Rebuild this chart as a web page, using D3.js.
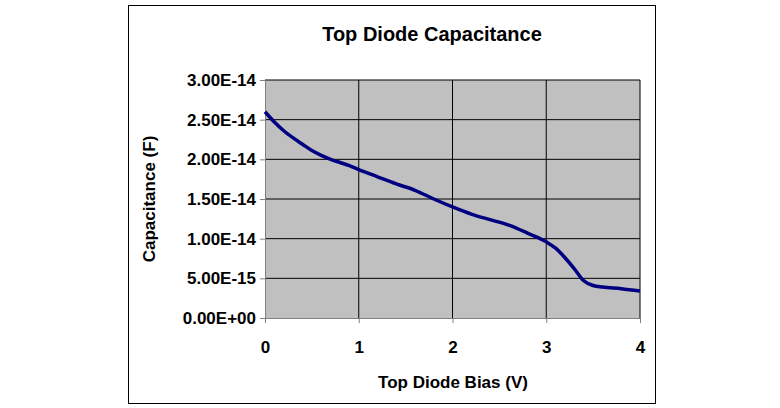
<!DOCTYPE html><html><head><script src="https://cdn.jsdelivr.net/npm/d3@7"></script>
<style>body{margin:0;background:#fff}text{font-family:Arial,"Liberation Sans",sans-serif;font-weight:bold}</style></head><body>
<svg id="c" width="780" height="408"></svg>
<script>
const biasV=[0,0.1,0.2,0.3,0.4,0.5,0.6,0.7,0.8,0.9,1.0,1.2,1.4,1.6,1.8,2.0,2.2,2.4,2.6,2.8,3.0,3.1,3.2,3.3,3.4,3.5,3.6,3.8,4.0];
const capE14=[2.6,2.47,2.36,2.27,2.19,2.11,2.05,2.0,1.96,1.92,1.87,1.78,1.69,1.61,1.5,1.40,1.31,1.24,1.17,1.07,0.96,0.88,0.76,0.62,0.47,0.41,0.39,0.37,0.34];
const yTicks=[0,5e-15,1e-14,1.5e-14,2e-14,2.5e-14,3e-14];
const yLabels=["0.00E+00","5.00E-15","1.00E-14","1.50E-14","2.00E-14","2.50E-14","3.00E-14"];
const xTicks=[0,1,2,3,4];
const svg=d3.select("#c");
svg.append("rect").attr("x",128.5).attr("y",5.5).attr("width",527).attr("height",398).attr("fill","#fff").attr("stroke","#000");
const x=d3.scaleLinear().domain([0,4]).range([265,640]);
const y=d3.scaleLinear().domain([0,3e-14]).range([318,80]);
svg.append("rect").attr("x",265).attr("y",80).attr("width",375).attr("height",238).attr("fill","#c0c0c0");
svg.append("g").selectAll("line").data(yTicks.slice(1)).join("line").attr("x1",265).attr("x2",640).attr("y1",d=>y(d)).attr("y2",d=>y(d)).attr("stroke","#000");
svg.append("g").selectAll("line").data(xTicks.slice(1)).join("line").attr("y1",80).attr("y2",318).attr("x1",d=>x(d)).attr("x2",d=>x(d)).attr("stroke","#000");
const ya=svg.append("g").attr("transform","translate(265,0)").call(d3.axisLeft(y).tickValues(yTicks).tickFormat((d,i)=>yLabels[i]).tickSize(5).tickPadding(4));
const xa=svg.append("g").attr("transform","translate(0,318)").call(d3.axisBottom(x).tickValues(xTicks).tickFormat(d3.format("d")).tickSize(5).tickPadding(18));
[ya,xa].forEach(a=>{a.select(".domain").attr("stroke","#808080");a.selectAll(".tick line").attr("stroke","#808080");a.selectAll("text").attr("font-size",17).attr("fill","#000").style("font-family","Arial,'Liberation Sans',sans-serif").style("font-weight","bold");});
svg.append("path").datum(biasV.map((v,i)=>[v,capE14[i]*1e-14])).attr("fill","none").attr("stroke","#000080").attr("stroke-width",3.5)
 .attr("d",d3.line().x(d=>x(d[0])).y(d=>y(d[1])).curve(d3.curveMonotoneX));
svg.append("text").attr("x",432).attr("y",41).attr("text-anchor","middle").attr("font-size",20).text("Top Diode Capacitance");
svg.append("text").attr("x",453).attr("y",388).attr("text-anchor","middle").attr("font-size",17).text("Top Diode Bias (V)");
svg.append("text").attr("transform","translate(155,199) rotate(-90)").attr("text-anchor","middle").attr("font-size",17).text("Capacitance (F)");
</script></body></html>
